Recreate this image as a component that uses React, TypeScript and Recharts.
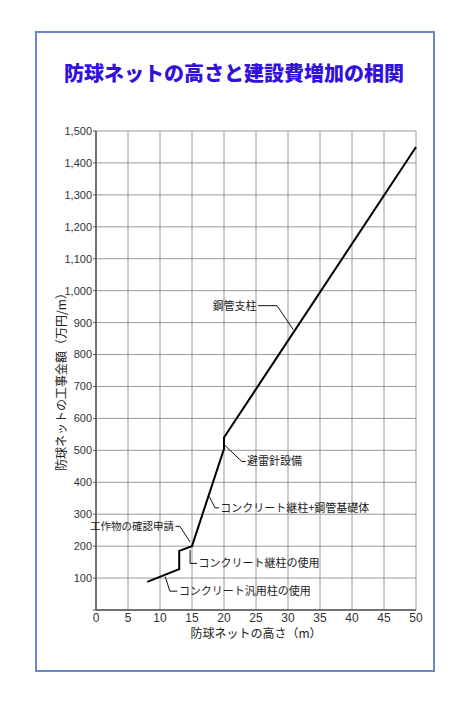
import React from 'react';
import {
  LineChart,
  Line,
  XAxis,
  YAxis,
  CartesianGrid,
  ReferenceLine,
  ReferenceDot,
} from 'recharts';

// Net height (m) and construction cost (万円/m)
const heights = [8, 13, 13, 15, 20, 20, 50];
const costs = [88, 128, 185, 200, 505, 540, 1450];

const xTicks = [0, 5, 10, 15, 20, 25, 30, 35, 40, 45, 50];
const yTicks = [0, 100, 200, 300, 400, 500, 600, 700, 800, 900, 1000, 1100, 1200, 1300, 1400, 1500];

const titleText = '防球ネットの高さと建設費増加の相関';
const xAxisTitle = '防球ネットの高さ（m）';
const yAxisTitle = '防球ネットの工事金額（万円/m）';

const annotationLabels = [
  '鋼管支柱',
  '避雷針設備',
  'コンクリート継柱+鋼管基礎体',
  '工作物の確認申請',
  'コンクリート継柱の使用',
  'コンクリート汎用柱の使用',
];
const labelX = [25.1, 23.6, 19.4, 12.2, 16.0, 12.95];
const labelY = [953, 465, 320, 262, 146, 59];
const labelSide = ['left', 'right', 'right', 'left', 'right', 'right'];
const labelSize = [11, 11, 11, 10.5, 11, 11];
const leaderX = [
  [25.3, 28.3, 30.8],
  [23.4, 22.8, 20.15],
  [19.25, 18.6, 17.7],
  [12.4, 13.1, 14.7],
  [15.8, 14.7, 14.7],
  [12.7, 11.55, 10.8],
];
const leaderY = [
  [953, 953, 878],
  [465, 465, 515],
  [320, 320, 355],
  [262, 262, 213],
  [146, 146, 188],
  [59, 59, 105],
];

const data = heights.map((h, i) => ({ h, cost: costs[i] }));

const CJK = '"Noto Sans CJK JP", "Noto Sans", sans-serif';
const NUM = '"Liberation Sans Narrow", "Liberation Sans", "Noto Sans CJK JP", sans-serif';

const fmt = (v: number) => (v === 0 ? '' : v.toLocaleString('en-US'));

export default function App() {
  const segments: React.ReactNode[] = [];
  leaderX.forEach((xs, i) => {
    for (let k = 0; k < xs.length - 1; k++) {
      segments.push(
        <ReferenceLine
          key={`seg-${i}-${k}`}
          segment={[
            { x: xs[k], y: leaderY[i][k] },
            { x: xs[k + 1], y: leaderY[i][k + 1] },
          ]}
          stroke="#111"
          strokeWidth={1}
          ifOverflow="visible"
        />
      );
    }
  });

  return (
    <div style={{ position: 'absolute', left: 0, top: 0, width: 474, height: 705, background: '#fff' }}>
      <div
        style={{
          position: 'absolute',
          left: 35,
          top: 31,
          width: 400,
          height: 641,
          border: '2px solid #6a88c8',
          boxSizing: 'border-box',
        }}
      />
      <div
        style={{
          position: 'absolute',
          left: 0,
          top: 59,
          width: 468,
          textAlign: 'center',
          fontFamily: CJK,
          fontWeight: 900,
          fontSize: 20,
          lineHeight: '28px',
          color: '#3311dd',
          whiteSpace: 'nowrap',
        }}
      >
        {titleText}
      </div>
      <LineChart
        width={474}
        height={705}
        data={data}
        margin={{ top: 131, right: 58, bottom: 65, left: 56 }}
        style={{ position: 'absolute', left: 0, top: 0 }}
      >
        <CartesianGrid stroke="#9a9a9a" strokeWidth={1} />
        <XAxis
          dataKey="h"
          type="number"
          domain={[0, 50]}
          ticks={xTicks}
          height={30}
          tickSize={0}
          tickMargin={3}
          axisLine={{ stroke: '#555', strokeWidth: 1.5 }}
          tick={{ fill: '#333', fontSize: 12, fontFamily: NUM }}
          interval={0}
        />
        <YAxis
          type="number"
          domain={[0, 1500]}
          ticks={yTicks}
          width={40}
          tickSize={3}
          tickMargin={1}
          tickFormatter={fmt}
          axisLine={{ stroke: '#555', strokeWidth: 1.5 }}
          tickLine={{ stroke: '#555' }}
          tick={{ fill: '#333', fontSize: 11, fontFamily: NUM }}
          interval={0}
        />
        <Line
          dataKey="cost"
          type="linear"
          stroke="#000"
          strokeWidth={2}
          dot={false}
          isAnimationActive={false}
        />
        {segments}
        {annotationLabels.map((t, i) => (
          <ReferenceDot
            key={`lab-${i}`}
            x={labelX[i]}
            y={labelY[i]}
            r={0}
            fill="none"
            stroke="none"
            ifOverflow="visible"
            label={{
              value: t,
              position: labelSide[i] as any,
              offset: 0,
              fill: '#222',
              fontSize: labelSize[i],
              fontFamily: CJK,
            }}
          />
        ))}
      </LineChart>
      <div
        style={{
          position: 'absolute',
          left: 256,
          top: 632,
          transform: 'translate(-50%, -50%)',
          fontFamily: CJK,
          fontSize: 12,
          color: '#222',
          whiteSpace: 'nowrap',
        }}
      >
        {xAxisTitle}
      </div>
      <div
        style={{
          position: 'absolute',
          left: 60,
          top: 379,
          transform: 'translate(-50%, -50%) rotate(-90deg)',
          fontFamily: CJK,
          fontSize: 12,
          color: '#222',
          whiteSpace: 'nowrap',
        }}
      >
        {yAxisTitle}
      </div>
    </div>
  );
}
